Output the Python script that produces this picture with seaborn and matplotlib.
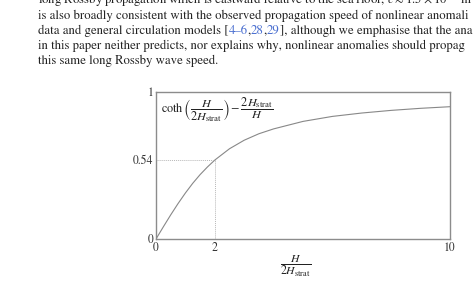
import matplotlib
matplotlib.use('Agg')
import matplotlib.pyplot as plt
import seaborn as sns

# curve values: x = H / (2 H_strat)
x_vals = [0, 0.25, 0.5, 0.75, 1, 1.25, 1.5, 1.75, 2, 2.5, 3, 3.5, 4, 5, 6, 7, 8, 9, 10]
y_vals = [0, 0.083, 0.164, 0.241, 0.313, 0.379, 0.438, 0.490, 0.537, 0.614, 0.672,
          0.716, 0.749, 0.800, 0.834, 0.857, 0.875, 0.889, 0.900]
x_mark = 2
y_mark = 0.54
x_ticks = [0, 2, 10]
x_tick_labels = ['0', '2', '10']
y_ticks = [0, 0.54, 1]
y_tick_labels = ['0', '0.54', '1']

# page text as far as it is visible in the crop
page_lines = [
    'long Rossby propagation which is eastward relative to the sea floor, $c\\approx 1.5\\times 10^{-3}$ m',
    'is also broadly consistent with the observed propagation speed of nonlinear anomali',
    None,
    'in this paper neither predicts, nor explains why, nonlinear anomalies should propag',
    'this same long Rossby wave speed.',
]
cite_pieces = [('data and general circulation models [', 'k'), ('4–6', 'link'), (',', 'k'),
               ('28', 'link'), (',', 'k'), ('29', 'link'),
               ('], although we emphasise that the ana', 'k')]

plt.rcParams['font.family'] = ['STIXGeneral', 'DejaVu Serif']
plt.rcParams['mathtext.fontset'] = 'stix'

W, H = 474, 284
fig = plt.figure(figsize=(W / 100, H / 100), dpi=100)
ax = fig.add_axes([156 / W, (H - 239) / H, 294 / W, 147 / H])

grey = '#8c8c8c'
sns.lineplot(x=x_vals, y=y_vals, ax=ax, color='#888888', linewidth=0.8)
ax.plot([0, x_mark], [y_mark, y_mark], color='#b8b8b8', linewidth=0.7, linestyle=(0, (1, 1)))
ax.plot([x_mark, x_mark], [0, y_mark], color='#b8b8b8', linewidth=0.7, linestyle=(0, (1, 1)))

ax.set_xlim(0, 10)
ax.set_ylim(0, 1)
ax.set_xticks(x_ticks, x_tick_labels)
ax.set_yticks(y_ticks, y_tick_labels)
ax.tick_params(length=0, labelsize=8.5, colors='#333333', pad=2)
for s in ax.spines.values():
    s.set_color(grey)
    s.set_linewidth(1.0)

ax.text(0.016, 0.88, r'$\coth\left(\dfrac{H}{2H_{\mathrm{strat}}}\right)-\dfrac{2H_{\mathrm{strat}}}{H}$',
        transform=ax.transAxes, fontsize=8.8, color='#222222', va='center', ha='left')
fig.text(296 / W, 1 - 266 / H, r'$\dfrac{H}{2H_{\mathrm{strat}}}$', fontsize=8.5,
         ha='center', va='center', color='#222222')

# page text above the figure
fs = 9.2
x0 = 38 / W
base_y = [4, 19, 34, 49, 64]
for line, yb in zip(page_lines, base_y):
    if line is not None:
        fig.text(x0, 1 - yb / H, line, fontsize=fs, color='#222222', va='baseline')

fig.canvas.draw()
renderer = fig.canvas.get_renderer()
cx = x0
for txt, col in cite_pieces:
    t = fig.text(cx, 1 - base_y[2] / H, txt, fontsize=fs, va='baseline',
                 color='#4a6fd0' if col == 'link' else '#222222')
    bb = t.get_window_extent(renderer)
    cx = bb.x1 / W

fig.savefig('out.png', dpi=100)
